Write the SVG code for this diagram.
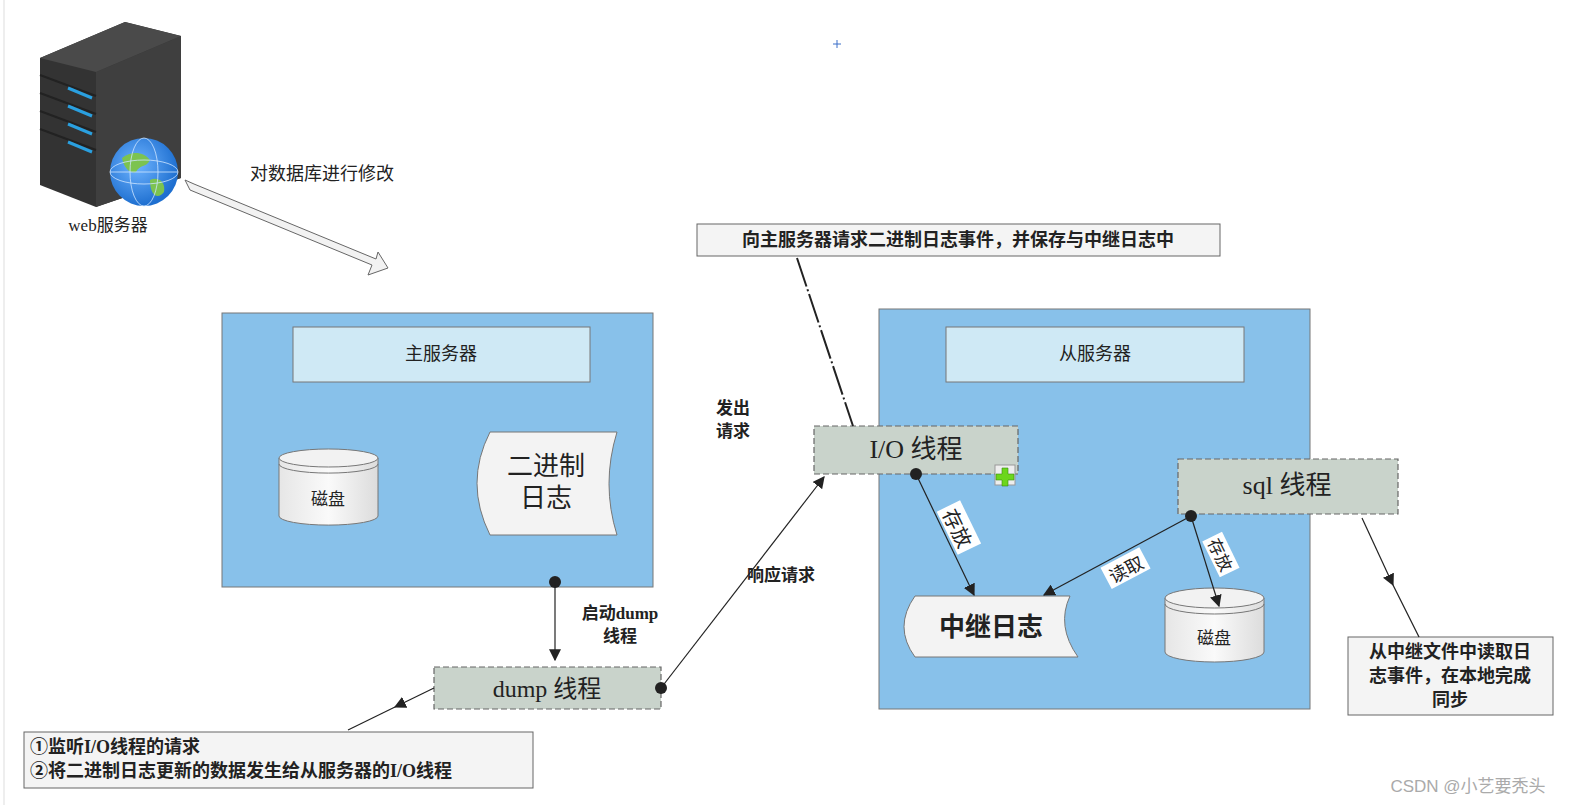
<svg xmlns="http://www.w3.org/2000/svg" width="1570" height="805" viewBox="0 0 1570 805">
<style>
text{font-family:"Liberation Serif","Noto Sans CJK SC",serif;fill:#222}
.panel{fill:#88C1EA;stroke:#777;stroke-width:1}
.lbl{fill:#CFE9F5;stroke:#777}
.thr{fill:#C9D3CB;stroke:#666;stroke-dasharray:6 3;stroke-width:1.2}
.note{fill:#F4F4F4;stroke:#666}
.ln{stroke:#222;stroke-width:1.2;fill:none}
.doc{fill:#F3F3F3;stroke:#777}
.wt{fill:#fff}
</style>
<defs>
<marker id="ah" viewBox="0 0 10 10" refX="9" refY="5" markerWidth="12" markerHeight="12" markerUnits="userSpaceOnUse" orient="auto"><path d="M0,0L10,5L0,10z" fill="#222"/></marker>
<linearGradient id="cyl" x1="0" x2="1"><stop offset="0" stop-color="#e6e6e6"/><stop offset=".5" stop-color="#fafafa"/><stop offset="1" stop-color="#dcdcdc"/></linearGradient>
<radialGradient id="gl" cx=".4" cy=".4" r=".6"><stop offset="0" stop-color="#6fb4ff"/><stop offset="1" stop-color="#1e6fd0"/></radialGradient>
</defs>
<rect width="1570" height="805" fill="#fff"/>
<line x1="4" y1="0" x2="4" y2="805" stroke="#ddd"/>
<g id="web">
<polygon points="40,58 125,22 181,36 181,178 96,207 40,185" fill="#333"/>
<polygon points="96,72 181,36 181,178 96,207" fill="#3f3f3f"/>
<polygon points="40,58 125,22 181,36 96,72" fill="#4a4a4a"/>
<g stroke="#222" stroke-width="2"><line x1="40" y1="75" x2="96" y2="96"/><line x1="40" y1="93" x2="96" y2="114"/><line x1="40" y1="111" x2="96" y2="132"/><line x1="40" y1="129" x2="96" y2="150"/></g>
<g stroke="#2aa0e0" stroke-width="3"><line x1="68" y1="88" x2="92" y2="98"/><line x1="68" y1="106" x2="92" y2="116"/><line x1="68" y1="124" x2="92" y2="134"/><line x1="68" y1="142" x2="92" y2="152"/></g>
<circle cx="144" cy="172" r="34" fill="url(#gl)"/>
<path d="M122,158c10,-8 22,-6 28,2c-4,8 -10,4 -14,12c-6,2 -12,-4 -14,-14zM150,180c8,-4 16,2 14,12c-6,8 -14,4 -14,-12z" fill="#7cc350"/>
<g stroke="#cfe6ff" stroke-width="0.8" fill="none"><ellipse cx="144" cy="172" rx="14" ry="34"/><ellipse cx="144" cy="172" rx="34" ry="12"/><line x1="110" y1="172" x2="178" y2="172"/></g>
<text x="108" y="231" font-size="17" text-anchor="middle">web服务器</text>
</g>
<g id="modify">
<polygon points="185,180 190,190 372,265 368,275 388,268 378,252 376,259 194,184" fill="#f2f2f2" stroke="#666"/>
<text x="322" y="180" font-size="18" text-anchor="middle">对数据库进行修改</text>
</g>
<path d="M837,40v8M833,44h8" stroke="#3a6fc8" stroke-width="1"/>
<g id="master">
<rect class="panel" x="222" y="313" width="431" height="274"/>
<rect class="lbl" x="293" y="327" width="297" height="55"/>
<text x="441" y="360" font-size="18" text-anchor="middle">主服务器</text>
<g id="disk1"><path d="M279,458v58a49,9 0 0 0 99,0v-58" fill="url(#cyl)" stroke="#777"/><ellipse cx="328.5" cy="458" rx="49.5" ry="9" fill="#f2f2f2" stroke="#777"/><path d="M279,464a49,9 0 0 0 99,0" fill="none" stroke="#777"/><text x="328" y="505" font-size="17" text-anchor="middle">磁盘</text></g>
<g id="binlog"><path class="doc" d="M490,432h127q-16,52 0,103h-127q-26,-52 0,-103z"/><text x="546" y="475" font-size="26" text-anchor="middle">二进制</text><text x="546" y="507" font-size="26" text-anchor="middle">日志</text></g>
</g>
<g id="dump"><rect class="thr" x="434" y="667" width="227" height="42"/><text x="547" y="697" font-size="24" text-anchor="middle">dump 线程</text></g>
<g id="note1"><rect class="note" x="24" y="732" width="509" height="56"/><text x="30" y="753" font-size="18" font-weight="bold">①监听I/O线程的请求</text><text x="30" y="777" font-size="18" font-weight="bold">②将二进制日志更新的数据发生给从服务器的I/O线程</text></g>
<g id="slave">
<rect class="panel" x="879" y="309" width="431" height="400"/>
<rect class="lbl" x="946" y="327" width="298" height="55"/>
<text x="1095" y="360" font-size="18" text-anchor="middle">从服务器</text>
<g id="relay"><path class="doc" d="M915,596h155q-14,30 8,61h-163q-22,-30 0,-61z"/><text x="991" y="636" font-size="26" text-anchor="middle" font-weight="bold">中继日志</text></g>
<g id="disk2"><path d="M1165,598v54a49.5,10 0 0 0 99,0v-54" fill="url(#cyl)" stroke="#777"/><ellipse cx="1214.5" cy="598" rx="49.5" ry="10" fill="#f2f2f2" stroke="#777"/><path d="M1165,604a49.5,10 0 0 0 99,0" fill="none" stroke="#777"/><text x="1214" y="644" font-size="17" text-anchor="middle">磁盘</text></g>
</g>
<g id="io"><rect class="thr" x="814" y="426" width="204" height="48"/><text x="916" y="458" font-size="26" text-anchor="middle">I/O 线程</text>
<rect x="995" y="465" width="20" height="20" fill="#eee" stroke="#999"/><path d="M1002,468h6v6h6v6h-6v6h-6v-6h-6v-6h6z" fill="#6cd61c" stroke="#3a8a10" stroke-width="0.6"/></g>
<g id="sql"><rect class="thr" x="1178" y="459" width="220" height="55"/><text x="1287" y="494" font-size="26" text-anchor="middle">sql 线程</text></g>
<g id="note2"><rect class="note" x="697" y="224" width="523" height="32"/><text x="958" y="246" font-size="18" font-weight="bold" text-anchor="middle">向主服务器请求二进制日志事件，并保存与中继日志中</text></g>
<g id="note3"><rect class="note" x="1348" y="637" width="205" height="78"/><text x="1450" y="658" font-size="18" font-weight="bold" text-anchor="middle">从中继文件中读取日</text><text x="1450" y="682" font-size="18" font-weight="bold" text-anchor="middle">志事件，在本地完成</text><text x="1450" y="706" font-size="18" font-weight="bold" text-anchor="middle">同步</text></g>
<g id="connectors">
<circle cx="555" cy="582" r="6" fill="#222"/>
<line class="ln" x1="555" y1="582" x2="555" y2="660" marker-end="url(#ah)"/>
<text x="620" y="619" font-size="17" font-weight="bold" text-anchor="middle">启动dump</text><text x="620" y="642" font-size="17" font-weight="bold" text-anchor="middle">线程</text>
<circle cx="661" cy="688" r="6" fill="#222"/>
<line class="ln" x1="661" y1="688" x2="824" y2="477" marker-end="url(#ah)"/>
<text x="781" y="581" font-size="17" font-weight="bold" text-anchor="middle">响应请求</text>
<text x="733" y="414" font-size="17" font-weight="bold" text-anchor="middle">发出</text><text x="733" y="437" font-size="17" font-weight="bold" text-anchor="middle">请求</text>
<line class="ln" x1="434" y1="688" x2="395" y2="707" marker-end="url(#ah)"/>
<line class="ln" x1="395" y1="707" x2="348" y2="730"/>
<path d="M797,258L853,426" stroke="#222" stroke-width="2" stroke-dasharray="30 3 2 3" fill="none"/>
<circle cx="916" cy="474" r="6" fill="#222"/>
<line class="ln" x1="916" y1="474" x2="974" y2="595" marker-end="url(#ah)"/>
<g transform="translate(958,528) rotate(64)"><rect class="wt" x="-24" y="-14" width="48" height="26"/><text x="0" y="8" font-size="20" text-anchor="middle">存放</text></g>
<circle cx="1191" cy="516" r="6" fill="#222"/>
<line class="ln" x1="1191" y1="516" x2="1044" y2="595" marker-end="url(#ah)"/>
<line class="ln" x1="1191" y1="516" x2="1219" y2="606" marker-end="url(#ah)"/>
<g transform="translate(1126,569) rotate(-28)"><rect class="wt" x="-22" y="-13" width="44" height="24"/><text x="0" y="7" font-size="18" text-anchor="middle">读取</text></g>
<g transform="translate(1220,555) rotate(64)"><rect class="wt" x="-20" y="-12" width="40" height="22"/><text x="0" y="6" font-size="17" text-anchor="middle">存放</text></g>
<line class="ln" x1="1362" y1="518" x2="1393" y2="585" marker-end="url(#ah)"/>
<line class="ln" x1="1393" y1="585" x2="1419" y2="637"/>
</g>
<text x="1468" y="792" font-size="17" text-anchor="middle" style="fill:#aaa;font-family:'Liberation Sans','Noto Sans CJK SC',sans-serif">CSDN @小艺要秃头</text>
</svg>
